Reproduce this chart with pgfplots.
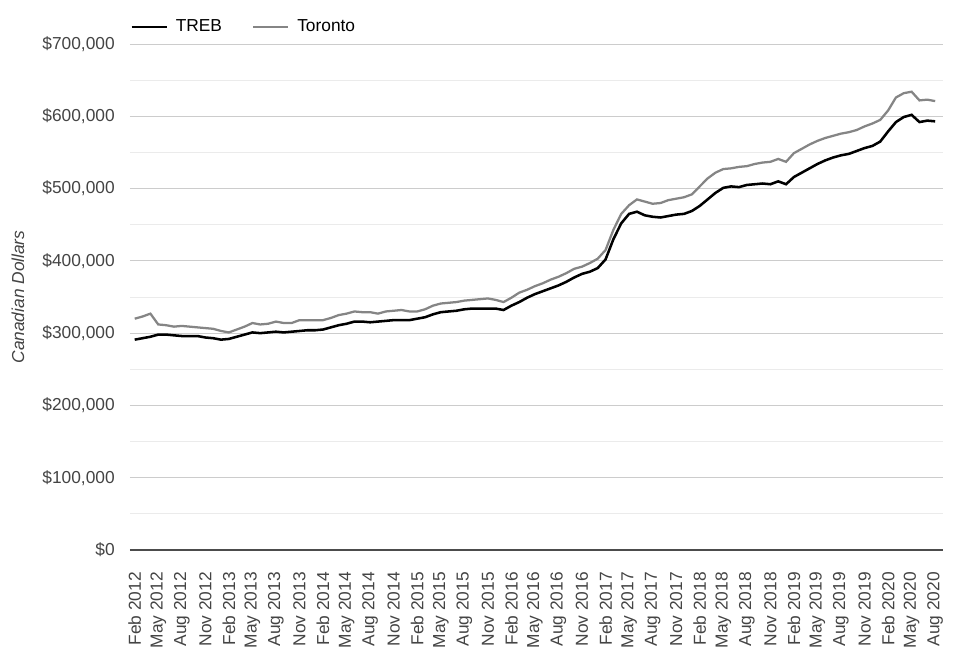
\documentclass[border=0pt]{standalone}
\usepackage{pgfplots}
\pgfplotsset{compat=1.18}
\usepackage{pgfplotstable}
\usepackage{fontspec}
\setmainfont{Liberation Sans}

\definecolor{tickgray}{HTML}{444444}
\definecolor{torgray}{HTML}{858585}
\definecolor{gridmaj}{HTML}{CCCCCC}
\definecolor{gridmin}{HTML}{EBEBEB}

% monthly benchmark price, thousands of dollars, i=0 is Feb 2012
\pgfplotstableread{
i treb tor
0 291 320
1 293 323
2 295 327
3 298 312
4 298 311
5 297 309
6 296 310
7 296 309
8 296 308
9 294 307
10 293 306
11 291 303
12 292 301
13 295 305
14 298 309
15 301 314
16 300 312
17 301 313
18 302 316
19 301 314
20 302 314
21 303 318
22 304 318
23 304 318
24 305 318
25 308 321
26 311 325
27 313 327
28 316 330
29 316 329
30 315 329
31 316 327
32 317 330
33 318 331
34 318 332
35 318 330
36 320 330
37 322 333
38 326 338
39 329 341
40 330 342
41 331 343
42 333 345
43 334 346
44 334 347
45 334 348
46 334 346
47 332 343
48 338 349
49 343 356
50 349 360
51 354 365
52 358 369
53 362 374
54 366 378
55 371 383
56 377 389
57 382 392
58 385 397
59 390 403
60 402 415
61 430 443
62 452 465
63 465 477
64 468 485
65 463 482
66 461 479
67 460 480
68 462 484
69 464 486
70 465 488
71 469 492
72 476 503
73 485 514
74 494 522
75 501 527
76 503 528
77 502 530
78 505 531
79 506 534
80 507 536
81 506 537
82 510 541
83 506 537
84 516 549
85 522 555
86 528 561
87 534 566
88 539 570
89 543 573
90 546 576
91 548 578
92 552 581
93 556 586
94 559 590
95 565 595
96 579 608
97 592 626
98 599 632
99 602 634
100 592 622
101 594 623
102 593 621
}\prices

\begin{document}
\begin{tikzpicture}
\begin{axis}[
  scale only axis,
  width=609.75pt, height=379.5pt,
  xmin=-0.6, xmax=103,
  ymin=0, ymax=700,
  axis lines*=left,
  x axis line style={-, draw=black!70, line width=1.1pt},
  y axis line style={draw=none},
  major tick length=0pt, minor tick length=0pt,
  tick style={draw=none},
  font=\fontsize{13}{15}\selectfont,
  xtick={0,3,...,102},
  xticklabels={Feb 2012,May 2012,Aug 2012,Nov 2012,Feb 2013,May 2013,Aug 2013,Nov 2013,Feb 2014,May 2014,Aug 2014,Nov 2014,Feb 2015,May 2015,Aug 2015,Nov 2015,Feb 2016,May 2016,Aug 2016,Nov 2016,Feb 2017,May 2017,Aug 2017,Nov 2017,Feb 2018,May 2018,Aug 2018,Nov 2018,Feb 2019,May 2019,Aug 2019,Nov 2019,Feb 2020,May 2020,Aug 2020},
  xticklabel style={rotate=90, anchor=east, inner xsep=16.5pt, inner ysep=0pt, text=tickgray},
  ytick={0,100,...,700},
  yticklabels={{\$0},{\$100,000},{\$200,000},{\$300,000},{\$400,000},{\$500,000},{\$600,000},{\$700,000}},
  yticklabel style={anchor=east, inner xsep=11.25pt, inner ysep=0pt, text=tickgray},
  minor ytick={50,150,...,650},
  ymajorgrids, yminorgrids,
  major grid style={draw=gridmaj, line width=0.75pt},
  minor grid style={draw=gridmin, line width=0.75pt},
  ylabel={\itshape Canadian Dollars},
  ylabel style={at={(axis description cs:-0.1378,0.5)}, anchor=center, text=tickgray},
  legend columns=2,
  legend style={at={(axis description cs:0,1.034)}, anchor=west, draw=none, fill=none,
    inner sep=0pt, nodes={inner sep=0pt, anchor=west},
    /tikz/every odd column/.append style={column sep=6pt},
    /tikz/every even column/.append style={column sep=22.5pt}},
  legend image code/.code={\draw[#1] (0pt,0pt) -- (26.25pt,0pt);},
]
\addplot[black, line width=1.9pt] table[x=i, y=treb] {\prices};
\addplot[torgray, line width=1.7pt] table[x=i, y=tor] {\prices};
\legend{TREB,Toronto}
\end{axis}
\pgfresetboundingbox
\path (current axis.south west) ++(-97.5pt,-87.75pt) rectangle ++(735pt,500.25pt);
\end{tikzpicture}
\end{document}
